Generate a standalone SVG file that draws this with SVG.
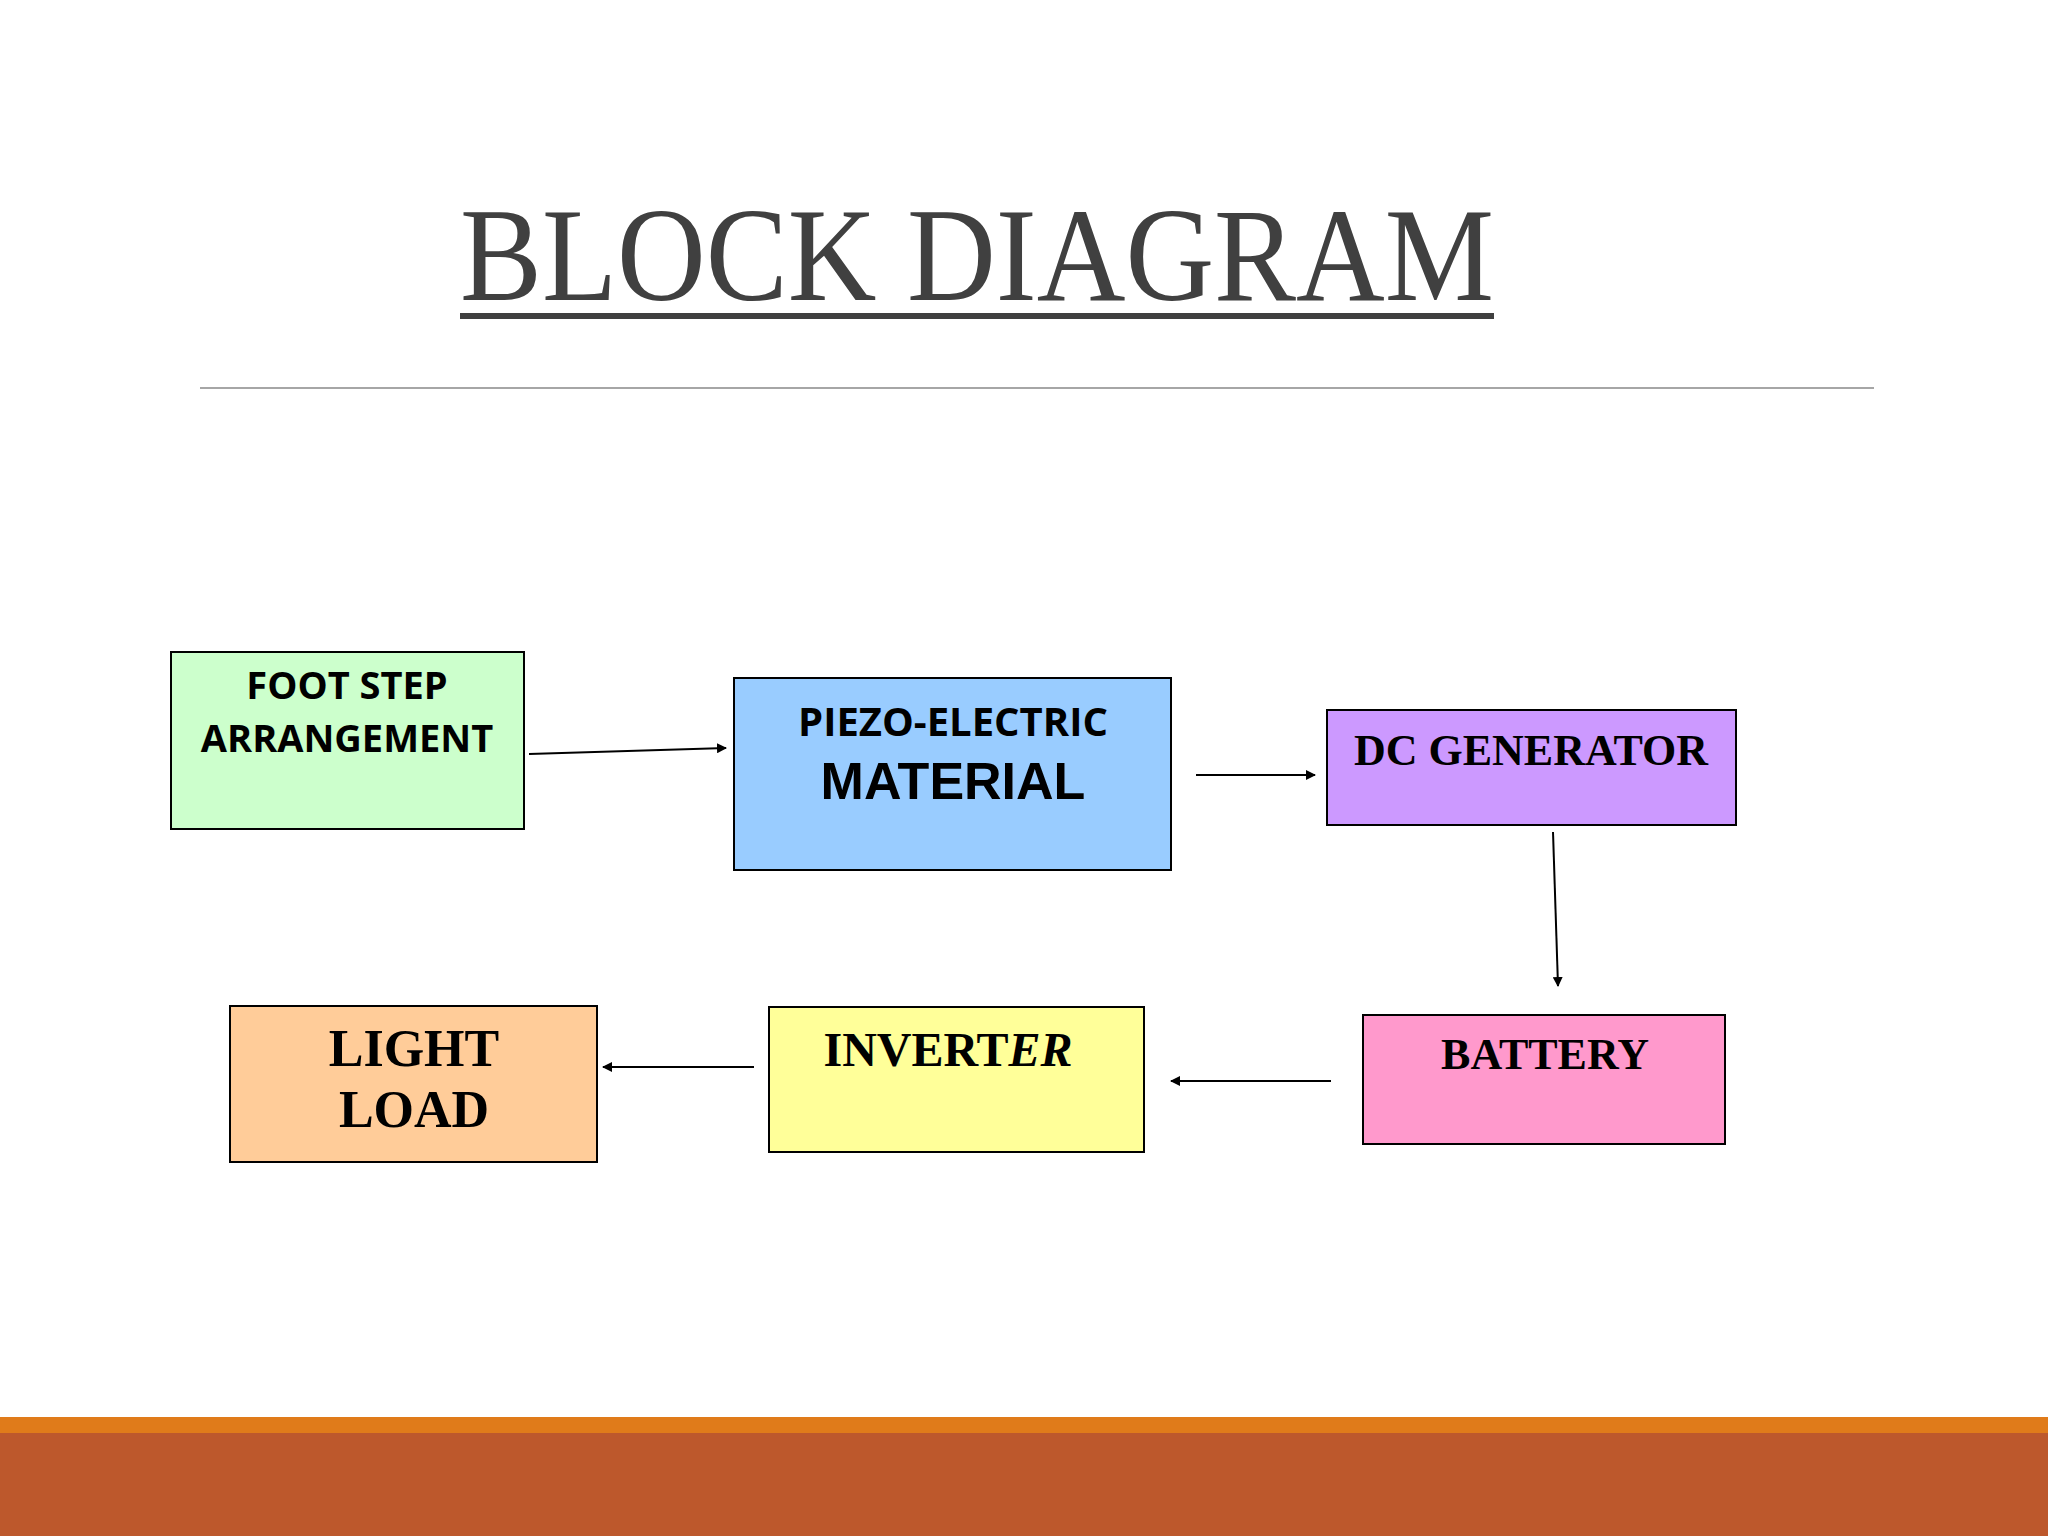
<svg xmlns="http://www.w3.org/2000/svg" width="2048" height="1536" viewBox="0 0 2048 1536">
<style>
.box{stroke:#000;stroke-width:2}
.sans{font-family:"Open Sans","Liberation Sans",sans-serif;font-weight:bold;fill:#000;text-anchor:middle}
.ser{font-family:"Liberation Serif",serif;font-weight:bold;fill:#000;text-anchor:middle}
.c{stroke:#000;stroke-width:2;fill:none;marker-end:url(#ah)}
</style>
<defs><marker id="ah" markerWidth="10" markerHeight="10" refX="9" refY="5" orient="auto" markerUnits="userSpaceOnUse" viewBox="0 0 10 10"><path d="M0,0 L10,5 L0,10 z" fill="#000"/></marker></defs>
<rect width="2048" height="1536" fill="#fff"/>
<text x="977" y="300" font-family="Liberation Serif,serif" font-size="134" fill="#404040" text-anchor="middle" textLength="1034" lengthAdjust="spacingAndGlyphs">BLOCK DIAGRAM</text>
<rect x="460" y="313" width="1034" height="6" fill="#404040"/>
<line x1="200" y1="388" x2="1874" y2="388" stroke="#a6a6a6" stroke-width="2"/>
<rect x="0" y="1417" width="2048" height="16" fill="#e07b1a"/>
<rect x="0" y="1433" width="2048" height="103" fill="#bd582c"/>
<g id="foot"><rect class="box" x="171" y="652" width="353" height="177" fill="#ccffcc"/>
<text class="sans" x="347" y="699" font-size="38">FOOT STEP</text><text class="sans" x="347" y="752" font-size="38">ARRANGEMENT</text></g>
<g id="piezo"><rect class="box" x="734" y="678" width="437" height="192" fill="#99ccff"/>
<text class="sans" x="953" y="736" font-size="40">PIEZO-ELECTRIC</text><text x="953" y="799" font-family="Liberation Sans,sans-serif" font-weight="bold" font-size="52" text-anchor="middle">MATERIAL</text></g>
<g id="dcgen"><rect class="box" x="1327" y="710" width="409" height="115" fill="#cc99ff"/>
<text class="ser" x="1531" y="765" font-size="44">DC GENERATOR</text></g>
<g id="battery"><rect class="box" x="1363" y="1015" width="362" height="129" fill="#ff99cc"/>
<text class="ser" x="1545" y="1069" font-size="44">BATTERY</text></g>
<g id="inverter"><rect class="box" x="769" y="1007" width="375" height="145" fill="#ffff99"/>
<text class="ser" x="948" y="1066" font-size="48">INVERT<tspan font-style="italic">ER</tspan></text></g>
<g id="light"><rect class="box" x="230" y="1006" width="367" height="156" fill="#ffcc99"/>
<text class="ser" x="414" y="1066" font-size="52">LIGHT</text><text class="ser" x="414" y="1127" font-size="52">LOAD</text></g>
<g id="connectors">
<line class="c" x1="529" y1="754" x2="726" y2="748"/>
<line class="c" x1="1196" y1="775" x2="1315" y2="775"/>
<line class="c" x1="1553" y1="832" x2="1558" y2="986"/>
<line class="c" x1="1331" y1="1081" x2="1171" y2="1081"/>
<line class="c" x1="754" y1="1067" x2="603" y2="1067"/>
</g>
</svg>
